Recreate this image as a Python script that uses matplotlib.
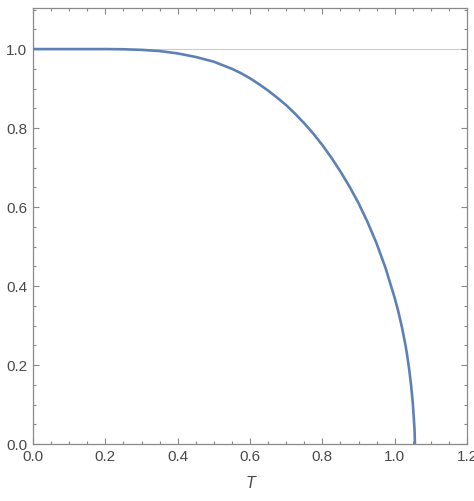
import matplotlib
matplotlib.use("Agg")
import matplotlib.pyplot as plt
from matplotlib.ticker import MultipleLocator

plt.rcParams["font.family"] = ["Liberation Sans", "DejaVu Sans"]

T = [0.0, 0.1, 0.2, 0.25, 0.3, 0.35, 0.4, 0.45, 0.5, 0.55, 0.575, 0.6, 0.625,
     0.65, 0.675, 0.7, 0.725, 0.75, 0.775, 0.8, 0.825, 0.85, 0.875, 0.9,
     0.925, 0.95, 0.975, 1.0, 1.01, 1.02, 1.03, 1.035, 1.04, 1.045, 1.05,
     1.053, 1.055, 1.056]
gap = [1.0, 1.0, 1.0, 0.9995, 0.998, 0.995, 0.989, 0.980, 0.968, 0.950, 0.939,
       0.926, 0.911, 0.895, 0.877, 0.858, 0.836, 0.812, 0.786, 0.757, 0.725,
       0.690, 0.652, 0.610, 0.562, 0.508, 0.445, 0.370, 0.336, 0.296, 0.250,
       0.222, 0.190, 0.152, 0.105, 0.065, 0.035, 0.0]
ref_level = 1.0
xticks = [0.0, 0.2, 0.4, 0.6, 0.8, 1.0, 1.2]
yticks = [0.0, 0.2, 0.4, 0.6, 0.8, 1.0]

fig = plt.figure(figsize=(4.74, 5.01), dpi=100)
ax = fig.add_axes([33/474, 1-444/501, (467-33)/474, (444-8)/501])

ax.axhline(ref_level, color="#cccccc", lw=0.8, zorder=1)
ax.plot(T, gap, color="#5E81B5", lw=1.9, zorder=3, solid_capstyle="butt",
        solid_joinstyle="round")

ax.set_xlim(0, 1.2)
ax.set_ylim(0, 1.104)
ax.set_xticks(xticks)
ax.set_yticks(yticks)
ax.set_xticklabels([f"{v:.1f}" for v in xticks])
ax.set_yticklabels([f"{v:.1f}" for v in yticks])
ax.xaxis.set_minor_locator(MultipleLocator(0.05))
ax.yaxis.set_minor_locator(MultipleLocator(0.05))

frame_col = "#8a8a8a"
for s in ax.spines.values():
    s.set_color(frame_col)
    s.set_linewidth(0.9)
ax.tick_params(which="both", direction="in", top=True, right=True,
               color=frame_col, width=0.8, labelcolor="#4a4a4a", labelsize=11)
ax.tick_params(which="major", length=4, pad=4)
ax.tick_params(which="minor", length=2)

ax.set_xlabel("T", fontstyle="italic", color="#4a4a4a", fontsize=11.5, labelpad=9)

fig.savefig("out.png", dpi=100)
